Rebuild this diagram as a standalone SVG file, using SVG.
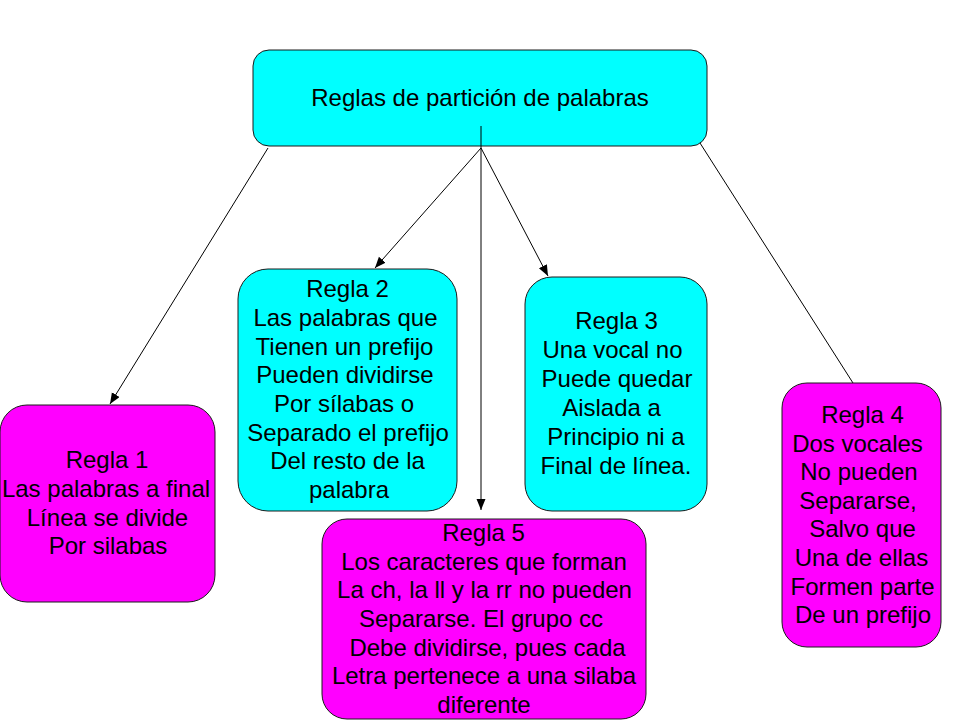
<svg xmlns="http://www.w3.org/2000/svg" width="960" height="720" viewBox="0 0 960 720">
<style>
.box{stroke:#1a1a1a;stroke-width:1}
.c{fill:#00FFFF}
.m{fill:#FF00FF}
text{font-family:"Liberation Sans",Arial,sans-serif;font-size:24px;fill:#000;text-anchor:middle}
.ln{stroke:#000;stroke-width:1;fill:none}
</style>
<defs>
<marker id="ah" markerUnits="userSpaceOnUse" markerWidth="12" markerHeight="10" refX="11" refY="4.5" orient="auto">
<path d="M0,0 L11,4.5 L0,9 z" fill="#000"/>
</marker>
</defs>
<rect width="960" height="720" fill="#fff"/>
<g id="connectors">
<line class="ln" x1="268" y1="148" x2="110" y2="404" marker-end="url(#ah)"/>
<line class="ln" x1="481" y1="148" x2="375" y2="268" marker-end="url(#ah)"/>
<line class="ln" x1="481" y1="148" x2="548" y2="276" marker-end="url(#ah)"/>
<line class="ln" x1="700" y1="143" x2="853" y2="383"/>
</g>
<g id="root">
<rect class="box c" x="253" y="50" width="454" height="96" rx="16"/>
<text x="480" y="106">Reglas de partición de palabras</text>
</g>
<g id="connector-vertical">
<line class="ln" x1="481" y1="126" x2="481" y2="510" marker-end="url(#ah)"/>
</g>
<g id="regla1">
<rect class="box m" x="0" y="405" width="215" height="197" rx="27"/>
<text x="107" y="468">Regla 1</text>
<text x="106" y="497">Las palabras a final</text>
<text x="107.5" y="526">Línea se divide</text>
<text x="108" y="554">Por silabas</text>
</g>
<g id="regla2">
<rect class="box c" x="238" y="269" width="219" height="242" rx="30"/>
<text x="347.5" y="297">Regla 2</text>
<text x="345.5" y="326">Las palabras que</text>
<text x="344.5" y="355">Tienen un prefijo</text>
<text x="345" y="383">Pueden dividirse</text>
<text x="344" y="412">Por sílabas o</text>
<text x="348" y="441">Separado el prefijo</text>
<text x="347.5" y="469">Del resto de la</text>
<text x="349" y="498">palabra</text>
</g>
<g id="regla3">
<rect class="box c" x="525" y="277" width="182" height="234" rx="27"/>
<text x="616.5" y="329">Regla 3</text>
<text x="612.5" y="358">Una vocal no</text>
<text x="617" y="387">Puede quedar</text>
<text x="611.5" y="416">Aislada a</text>
<text x="616" y="445">Principio ni a</text>
<text x="616" y="474">Final de línea.</text>
</g>
<g id="regla4">
<rect class="box m" x="782" y="383" width="159" height="264" rx="25"/>
<text x="862.5" y="423">Regla 4</text>
<text x="857.5" y="452">Dos vocales</text>
<text x="859" y="480">No pueden</text>
<text x="858" y="509">Separarse,</text>
<text x="862.5" y="537">Salvo que</text>
<text x="861.5" y="566">Una de ellas</text>
<text x="862.5" y="595">Formen parte</text>
<text x="863" y="623">De un prefijo</text>
</g>
<g id="regla5">
<rect class="box m" x="322" y="519" width="324" height="200" rx="25"/>
<text x="483.5" y="541">Regla 5</text>
<text x="484" y="570">Los caracteres que forman</text>
<text x="484.5" y="598">La ch, la ll y la rr no pueden</text>
<text x="481" y="627">Separarse. El grupo cc</text>
<text x="487.5" y="656">Debe dividirse, pues cada</text>
<text x="484" y="684">Letra pertenece a una silaba</text>
<text x="484" y="713">diferente</text>
</g>
</svg>
